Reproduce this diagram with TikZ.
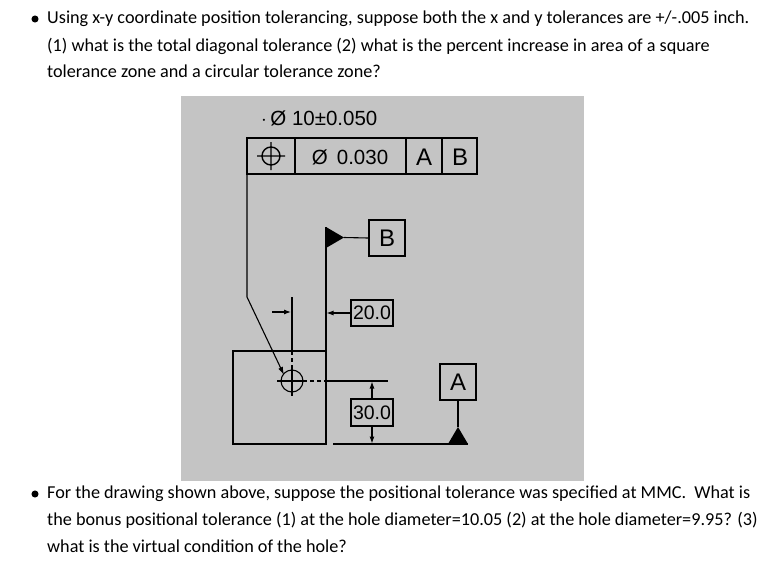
\documentclass[tikz,border=0pt]{standalone}
\usetikzlibrary{arrows.meta}
\usepackage{fontspec}
\setmainfont{Carlito}
\newfontfamily\dsans{Liberation Sans}
\begin{document}
\begin{tikzpicture}[x=1pt,y=-1pt,
  para/.style={anchor=west,font=\fontsize{18.2}{20}\selectfont,inner sep=0},
  dtxt/.style={font=\dsans\fontsize{20.5}{22}\selectfont,inner sep=0},
  dbox/.style={draw,line width=1.4pt,font=\dsans\fontsize{19.5}{22}\selectfont,inner sep=0},
  lbox/.style={dbox,font=\dsans\fontsize{24}{26}\selectfont,minimum width=36pt,minimum height=36pt},
  ln/.style={line width=1.4pt},
  thin/.style={line width=1.1pt},
  arr/.style={-{Latex[length=7pt,width=5pt]},line width=1.1pt}]
\useasboundingbox (0,0) rectangle (775,570);
\fill[white] (0,0) rectangle (775,570);
\fill[black!23] (181,96) rectangle (584,481);
% texts
\foreach \y in {19,494} \node[circle,fill,inner sep=2.5pt] (b\y) at (35,\y) {};
\node[para] (t1) at (47,19) {Using x-y coordinate position tolerancing, suppose both the x and y tolerances are +/-.005 inch.};
\node[para] (t2) at (47,46) {(1) what is the total diagonal tolerance (2) what is the percent increase in area of a square};
\node[para] (t3) at (47,71) {tolerance zone and a circular tolerance zone?};
\node[para] (t4) at (47,494) {For the drawing shown above, suppose the positional tolerance was specified at MMC.\ \ What is};
\node[para] (t5) at (47,520) {the bonus positional tolerance (1) at the hole diameter=10.05 (2) at the hole diameter=9.95? (3)};
\node[para] (t6) at (47,546) {what is the virtual condition of the hole?};
% hole size
\node[dtxt,anchor=west] (hs) at (261,118) {$\cdot$\,Ø 10±0.050};
% feature control frame
\draw[ln] (247,138) rectangle (477,174);
\draw[ln] (295,138)--(295,174) (406,138)--(406,174) (442,138)--(442,174);
\draw[ln] (271,156) circle (9) (257,156)--(285,156) (271,142)--(271,170);
\node[dtxt] (tol) at (350,157) {Ø\, 0.030};
\node[dtxt,font=\dsans\fontsize{24}{26}\selectfont] (fa) at (424,157) {A};
\node[dtxt,font=\dsans\fontsize{24}{26}\selectfont] (fb) at (460,157) {B};
% part
\draw[ln] (233,351) rectangle (326,444);
\draw[ln] (326,351)--(326,227);
\fill (326,227)--(344,237.5)--(326,248)--cycle;
\node[lbox] (B) at (387,238) {B};
\draw[thin] (344,237.5)--(B.west);
% hole
\coordinate (hc) at (292,381);
\draw[thin] (hc) circle (11);
\draw[thin] (277,381)--(303,381) (292,366)--(292,396);
\draw[thin] (292,297)--(292,351);
\draw[thin,dash pattern=on 4pt off 3pt] (292,351)--(292,366);
\draw[thin,dash pattern=on 4pt off 3pt] (303,381)--(326,381);
\draw[thin] (326,381)--(388,381);
\draw[arr] (272,312)--(291,312);
% leader
\draw[thin,-{Latex[length=8pt,width=5pt]}] (247,174)--(247,297)--(284,375);
% 20.0
\node[dbox,minimum width=42pt,minimum height=26pt] (d20) at (372,313) {20.0};
\draw[arr] (d20.west)--(326.5,313);
% 30.0
\node[dbox,minimum width=42pt,minimum height=27pt] (d30) at (372,412.5) {30.0};
\draw[arr] (d30.north)--(372,381.5);
\draw[arr] (d30.south)--(372,443.5);
\draw[ln] (333,444)--(468,444);
% datum A
\fill (448,444)--(458,427)--(468,444)--cycle;
\node[lbox] (A) at (458,382) {A};
\draw[thin] (A.south)--(458,427);
\end{tikzpicture}
\end{document}
